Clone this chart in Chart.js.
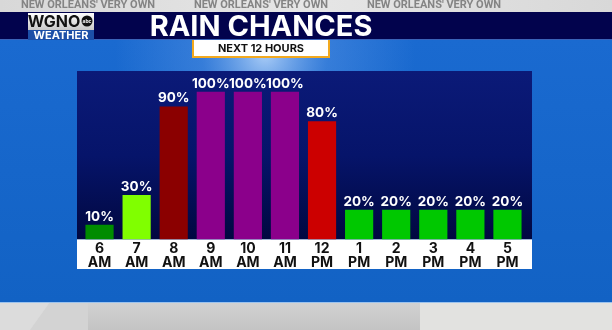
<!DOCTYPE html>
<html lang="en">
<head>
    <meta charset="UTF-8">
    <title>Rain Chances</title>
    <script src="https://cdn.jsdelivr.net/npm/chart.js"></script>
    <style>
        html, body {
            margin: 0;
            padding: 0;
            background: #1565c8;
        }
        .wrap {
            position: relative;
            width: 612px;
            height: 330px;
        }
    </style>
</head>
<body>
    <div class="wrap">
        <canvas id="rainChart" width="612" height="330"></canvas>
    </div>

    <script>
        // Hourly rain chances
        const hours = [['6', 'AM'], ['7', 'AM'], ['8', 'AM'], ['9', 'AM'], ['10', 'AM'], ['11', 'AM'],
                       ['12', 'PM'], ['1', 'PM'], ['2', 'PM'], ['3', 'PM'], ['4', 'PM'], ['5', 'PM']];
        const chances = [10, 30, 90, 100, 100, 100, 80, 20, 20, 20, 20, 20];
        const barColors = ['#008c00', '#80ff00', '#8b0000', '#8b008b', '#8b008b', '#8b008b',
                           '#cc0000', '#00c800', '#00c800', '#00c800', '#00c800', '#00c800'];

        const FONT = 'Inter, "Open Sans", sans-serif';

        // Panel around the plot
        const PANEL = { left: 77, right: 532, top: 71, bottom: 269 };

        // Background: gray strips, navy header, sky, navy panel and white label strip
        const backdrop = {
            id: 'backdrop',
            beforeDraw(chart) {
                const ctx = chart.ctx;
                const ca = chart.chartArea;
                ctx.save();

                // sky
                let g = ctx.createLinearGradient(0, 40, 0, 302);
                g.addColorStop(0, '#1a6ad0');
                g.addColorStop(1, '#1262c4');
                ctx.fillStyle = g;
                ctx.fillRect(0, 40, 612, 262);
                let r = ctx.createRadialGradient(265, 55, 5, 265, 55, 150);
                r.addColorStop(0, 'rgba(200,225,255,0.75)');
                r.addColorStop(0.4, 'rgba(120,170,240,0.3)');
                r.addColorStop(1, 'rgba(120,170,240,0)');
                ctx.fillStyle = r;
                ctx.fillRect(0, 40, 612, 262);

                // top gray strip
                g = ctx.createLinearGradient(0, 0, 612, 0);
                g.addColorStop(0, '#d8d8d8');
                g.addColorStop(0.5, '#e6e6e6');
                g.addColorStop(1, '#d8d8d8');
                ctx.fillStyle = g;
                ctx.fillRect(0, 0, 612, 12);
                ctx.fillStyle = '#848484';
                ctx.font = 'bold 11px Roboto, ' + FONT;
                ctx.textAlign = 'center';
                ctx.textBaseline = 'middle';
                [88, 261, 434].forEach(x => ctx.fillText("NEW ORLEANS' VERY OWN", x, 5.5));

                // navy header
                ctx.fillStyle = '#02034d';
                ctx.fillRect(0, 12, 612, 28);
                ctx.fillStyle = '#3a63b8';
                ctx.fillRect(0, 39, 612, 1);

                // bottom gray strip
                ctx.fillStyle = '#dcdcdc';
                ctx.fillRect(0, 302, 612, 28);
                g = ctx.createLinearGradient(0, 302, 0, 330);
                g.addColorStop(0, '#d2d2d2');
                g.addColorStop(1, '#c4c4c4');
                ctx.fillStyle = g;
                ctx.fillRect(88, 302, 332, 28);
                ctx.fillStyle = '#e2e2e0';
                ctx.fillRect(420, 302, 192, 28);
                ctx.fillStyle = '#d3d3d3';
                ctx.beginPath();
                ctx.moveTo(50, 302);
                ctx.lineTo(88, 302);
                ctx.lineTo(88, 330);
                ctx.lineTo(30, 330);
                ctx.closePath();
                ctx.fill();
                ctx.fillStyle = '#9cc3ee';
                ctx.fillRect(0, 302, 612, 1);

                // navy plot panel
                g = ctx.createLinearGradient(0, PANEL.top, 0, ca.bottom);
                g.addColorStop(0, '#0b1a78');
                g.addColorStop(0.5, '#06146a');
                g.addColorStop(1, '#010840');
                ctx.fillStyle = g;
                ctx.fillRect(PANEL.left, PANEL.top, PANEL.right - PANEL.left, ca.bottom - PANEL.top);

                // white label strip
                ctx.fillStyle = '#ffffff';
                ctx.fillRect(PANEL.left, ca.bottom, PANEL.right - PANEL.left, PANEL.bottom - ca.bottom);
                ctx.restore();
            }
        };

        // Percent labels above the bars, header titles and logo
        const overlay = {
            id: 'overlay',
            afterDatasetsDraw(chart) {
                const ctx = chart.ctx;
                ctx.save();
                ctx.fillStyle = '#ffffff';
                ctx.font = 'bold 13.5px ' + FONT;
                ctx.textAlign = 'center';
                ctx.textBaseline = 'alphabetic';
                chart.getDatasetMeta(0).data.forEach((bar, i) => {
                    ctx.fillText(chances[i] + '%', bar.x, bar.y - 4);
                });
                ctx.restore();
            },
            afterDraw(chart) {
                const ctx = chart.ctx;
                ctx.save();
                ctx.textAlign = 'center';
                ctx.textBaseline = 'middle';

                // title
                ctx.fillStyle = '#ffffff';
                ctx.font = 'bold 29px ' + FONT;
                ctx.fillText('RAIN CHANCES', 261, 27);

                // subtitle box
                ctx.fillStyle = '#f2a91e';
                ctx.fillRect(192, 40, 138, 18);
                ctx.fillStyle = '#ffffff';
                ctx.fillRect(194, 40, 134, 16);
                ctx.fillStyle = '#111111';
                ctx.font = 'bold 11px ' + FONT;
                ctx.fillText('NEXT 12 HOURS', 261, 49);

                // logo
                let g = ctx.createLinearGradient(0, 13, 0, 30);
                g.addColorStop(0, '#ffffff');
                g.addColorStop(1, '#c8c8c8');
                ctx.fillStyle = g;
                ctx.fillRect(28, 13, 66, 17);
                ctx.fillStyle = '#1c4fa8';
                ctx.fillRect(28, 30, 66, 10);
                ctx.fillStyle = '#111111';
                ctx.font = 'bold 16px ' + FONT;
                ctx.fillText('WGNO', 54, 22);
                ctx.beginPath();
                ctx.arc(87, 21, 5.5, 0, Math.PI * 2);
                ctx.fill();
                ctx.fillStyle = '#ffffff';
                ctx.font = 'bold 5px ' + FONT;
                ctx.fillText('abc', 87, 21.5);
                ctx.font = 'bold 11px ' + FONT;
                ctx.fillText('WEATHER', 61, 35.5);
                ctx.restore();
            }
        };

        const ctx = document.getElementById('rainChart').getContext('2d');
        new Chart(ctx, {
            type: 'bar',
            data: {
                labels: hours,
                datasets: [{
                    data: chances,
                    backgroundColor: barColors,
                    borderWidth: 0,
                    barPercentage: 0.76,
                    categoryPercentage: 1
                }]
            },
            options: {
                responsive: false,
                animation: false,
                layout: {
                    padding: { left: 81, right: 86, top: 71, bottom: 58 }
                },
                plugins: {
                    legend: { display: false },
                    tooltip: { enabled: false }
                },
                scales: {
                    x: {
                        grid: { display: false, drawTicks: false },
                        border: { display: false },
                        ticks: {
                            color: '#111111',
                            font: { family: FONT, size: 14, weight: 'bold', lineHeight: 0.95 },
                            padding: 3,
                            maxRotation: 0,
                            autoSkip: false
                        }
                    },
                    y: {
                        display: false,
                        min: 0,
                        max: 114
                    }
                }
            },
            plugins: [backdrop, overlay]
        });
    </script>
</body>
</html>
